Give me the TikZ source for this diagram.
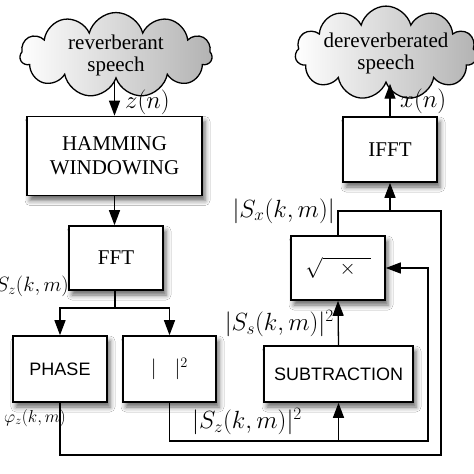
\documentclass[tikz,border=0pt]{standalone}
\usepackage[no-math]{fontspec}
\setmainfont{Liberation Serif}
\newfontfamily\hvfont{Liberation Sans}
\usetikzlibrary{shapes.symbols,arrows.meta,shadows.blur}
\begin{document}
\begin{tikzpicture}[x=1pt,y=-1pt,
  box/.style={draw,line width=1.6pt,fill=white,rectangle,inner sep=0pt,
    blur shadow={shadow xshift=3pt,shadow yshift=-5pt,shadow blur radius=5pt,shadow opacity=60},
    font=\fontsize{21}{24}\selectfont,align=center},
  sbox/.style={box,font=\hvfont\fontsize{18}{21}\selectfont},
  puff/.style={cloud,cloud puffs=11,cloud ignores aspect,draw,line width=1.3pt,
    left color=white,right color=gray!60,inner sep=0pt,align=center,
    font=\fontsize{21}{22}\selectfont},
  conn/.style={line width=1.3pt},
  arr/.style={conn,-{Triangle[length=15pt,width=11pt]}},
  lbl/.style={inner sep=0pt,font=\fontsize{24}{26}\selectfont}]
\useasboundingbox (0,0) rectangle (474,474);
\fill[white] (0,0) rectangle (474,474);
% clouds
\node[puff,minimum width=192pt,minimum height=62pt] (c1) at (116,55) {reverberant\\speech};
\node[puff,minimum width=180pt,minimum height=66pt] (c2) at (386,53) {dereverberated\\speech};
% boxes
\node[box,minimum width=175pt,minimum height=79pt] (ham) at (114.5,156) {HAMMING\\WINDOWING};
\node[box,minimum width=94pt,minimum height=64pt] (fft) at (116,258) {FFT};
\node[sbox,minimum width=94pt,minimum height=66pt] (phase) at (60,369) {PHASE};
\node[box,minimum width=93pt,minimum height=66pt,font=\fontsize{22}{24}\selectfont] (sq) at (169.5,369) {$|\hspace{18pt}|^2$};
\node[sbox,minimum width=149pt,minimum height=56pt] (sub) at (338.5,374) {SUBTRACTION};
\node[box,minimum width=94pt,minimum height=64pt,font=\fontsize{22}{24}\selectfont] (sqrt) at (338,268) {$\sqrt{\hspace{17pt}\times\hspace{15pt}}$};
\node[box,minimum width=94pt,minimum height=65pt] (ifft) at (390,149.5) {IFFT};
% helper coordinates
\coordinate (j1) at (115,308);
\coordinate (pr) at (441,455);
\coordinate (pt) at (441,211);
\coordinate (q1) at (428,441);
% connectors
\draw[arr] (c1.south -| ham.north) -- (ham.north);
\draw[arr] (ham.south) -- (fft.north -| ham.south);
\draw[conn] (fft.south -| j1) -- (j1);
\draw[arr] (j1) -| (phase.north);
\draw[arr] (j1) -| (sq.north);
\draw[conn] (phase.south) |- (pr) -- (pt) -- (sqrt.north |- pt) -- (sqrt.north);
\draw[arr] (ifft.south |- pt) -- (ifft.south);
\draw[arr] (ifft.north) -- (c2.south -| ifft.north);
\draw[arr] (sq.south) |- (q1) |- (sqrt.east);
\draw[arr] (sub.south |- q1) -- (sub.south);
\draw[arr] (sub.north) -- (sqrt.south);
% labels
\node[lbl,anchor=west] (lz) at (125,102) {$z(n)$};
\node[lbl,anchor=west] (lx) at (400,101) {$x(n)$};
\node[lbl,anchor=east,font=\fontsize{21.5}{24}\selectfont] (lsz) at (69,286) {$S_z(k,m)$};
\node[lbl,anchor=east,font=\fontsize{18}{20}\selectfont] (lphi) at (66,418) {$\varphi_z(k,m)$};
\node[lbl] (lsz2) at (247,422) {$|S_z(k,m)|^2$};
\node[lbl,anchor=east] (lss) at (334,324) {$|S_s(k,m)|^2$};
\node[lbl,anchor=east] (lsx) at (335,211) {$|S_x(k,m)|$};
\end{tikzpicture}
\end{document}
